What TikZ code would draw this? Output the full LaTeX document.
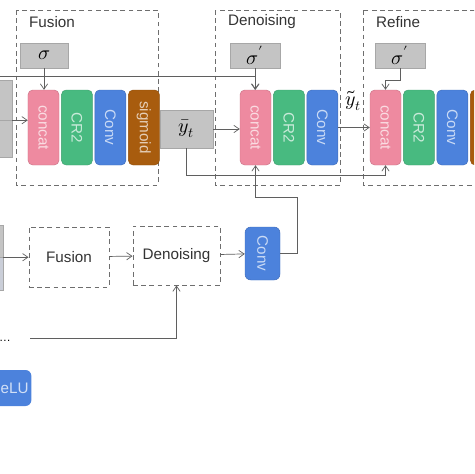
\documentclass[tikz,border=0pt]{standalone}
\usepackage{graphicx}
\usepackage{fontspec}
\usepackage{unicode-math}
\setmainfont{Liberation Sans}
\setmathfont{Latin Modern Math}
\usetikzlibrary{arrows.meta,positioning}
\definecolor{catcol}{RGB}{238,138,160}
\definecolor{crcol}{RGB}{72,186,128}
\definecolor{convcol}{RGB}{76,130,220}
\definecolor{sigcol}{RGB}{168,92,14}
\definecolor{boxgray}{RGB}{196,196,196}
\definecolor{linegray}{RGB}{95,95,95}
\definecolor{dashgray}{RGB}{110,110,110}
\newcommand{\vtxt}[1]{\rotatebox{-90}{#1}}
\tikzset{
  blk/.style={rounded corners=4pt,minimum width=0.93cm,minimum height=2.25cm,
    inner sep=0pt,font=\fontsize{13}{15}\selectfont,
    draw=#1!85!black,fill=#1,text=#1!30!white},
  gbox/.style={fill=boxgray,draw=boxgray!85!black,inner sep=0pt,
    font=\fontsize{17}{19}\selectfont},
  grp/.style={draw=dashgray,dash pattern=on 4pt off 3pt,line width=0.8pt},
  dbox/.style={grp,inner sep=0pt,font=\fontsize{13}{15}\selectfont,text=black!80},
  arr/.style={draw=linegray,line width=0.6pt,-{Straight Barb[length=1.6mm,width=2.2mm]}},
  lbl/.style={anchor=west,font=\fontsize{13}{15}\selectfont,text=black!80}
}
\begin{document}
\begin{tikzpicture}[x=0.03cm,y=-0.03cm]
  \useasboundingbox (0,0) rectangle (474,474);
  \clip (0,0) rectangle (474,474);
  % top row
  \draw[grp](16,10) rectangle (158,185);
  \draw[grp](215,10) rectangle (340,185);
  \draw[grp](363,10) rectangle (490,185);
  \node[lbl] (tfus) at (25,22){Fusion};
  \node[lbl] (tden) at (224,22){Denoising};
  \node[lbl] (tref) at (372,22){Refine};

  \node[gbox,minimum width=0.66cm,minimum height=1.2cm] (in1) at (1,100){};
  \node[gbox,minimum width=0.66cm,minimum height=1.11cm] (in2) at (1,138.5){};

  \node[gbox,minimum width=1.44cm,minimum height=0.75cm] (fs) at (44,55.5){$\sigma$};
  \node[blk=catcol] (fcat) at (43.5,127.5){\vtxt{concat}};
  \node[blk=crcol,right=0.06cm of fcat] (fcr){\vtxt{CR2}};
  \node[blk=convcol,right=0.06cm of fcr] (fconv){\vtxt{Conv}};
  \node[blk=sigcol,right=0.06cm of fconv] (fsgm){\vtxt{sigmoid}};
  \node[gbox,minimum width=1.59cm,minimum height=1.14cm] (ybar) at (186.5,129){$\bar{y}_t$};

  \node[gbox,minimum width=1.5cm,minimum height=0.75cm] (ds) at (255,55.5){$\sigma'$};
  \node[blk=catcol] (dcat) at (255.5,127.5){\vtxt{concat}};
  \node[blk=crcol,right=0.06cm of dcat] (dcr){\vtxt{CR2}};
  \node[blk=convcol,right=0.06cm of dcr] (dconv){\vtxt{Conv}};
  \node[font=\fontsize{17}{19}\selectfont] (ytil) at (353,101){$\widetilde{y}_t$};

  \node[gbox,minimum width=1.5cm,minimum height=0.75cm] (rs) at (400,55.5){$\sigma'$};
  \node[blk=catcol] (rcat) at (385.5,127.5){\vtxt{concat}};
  \node[blk=crcol,right=0.06cm of rcat] (rcr){\vtxt{CR2}};
  \node[blk=convcol,right=0.06cm of rcr] (rconv){\vtxt{Conv}};
  \node[blk=sigcol,right=0.06cm of rconv] (rsgm){\vtxt{sigmoid}};

  \coordinate (feed) at (0,76);
  \draw[arr](in1.south east)--(in1.south east -| fcat.west);
  \draw[arr](fs.south)--(fs.south |- fcat.north);
  \draw[arr](feed) -| (dcat.north);
  \draw[arr](ds.south)--(ds.south |- dcat.north);
  \draw[arr](ybar.east)--(ybar.east -| dcat.west);
  \draw[arr](ybar.south) |- ++(0,27) -| (rcat.south);
  \draw[arr](dconv.east)--(rcat.west);
  \draw[arr](rs.south)--++(0,12) -| (rcat.north);

  % bottom row
  \node[gbox,minimum width=0.39cm,minimum height=0.96cm] (bin1) at (-3.5,241){};
  \node[gbox,fill={rgb,255:red,202;green,206;blue,216},minimum width=0.39cm,
    minimum height=0.99cm] (bin2) at (-3.5,273.5){};
  \node[dbox,minimum width=2.4cm,minimum height=1.8cm] (bfus) at (69,257){Fusion};
  \node[dbox,minimum width=2.61cm,minimum height=1.77cm] (bden) at (176.5,255.5){Denoising};
  \node[blk=convcol,minimum width=1.05cm,minimum height=1.59cm,rounded corners=5pt]
    (bconv) at (262.5,253.5){\vtxt{Conv}};
  \node (dots) at (5,341){\ldots};
  \node[rounded corners=5pt,fill=convcol,text=convcol!25!white,inner sep=0pt,
    font=\fontsize{13}{15}\selectfont,minimum width=1.4cm,minimum height=1.08cm]
    (relu) at (8,388){\hspace{0.07cm}ReLU};

  \coordinate (turn) at (297,197);
  \coordinate (loop) at (30,338);
  \draw[arr](bin1.south east)--(bin1.south east -| bfus.west);
  \draw[arr](bfus)--(bden);
  \draw[arr](bden)--(bconv);
  \draw[arr](bconv.east) -| (turn) -| (dcat.south);
  \draw[arr](loop) -| (bden.south);
\end{tikzpicture}
\end{document}
